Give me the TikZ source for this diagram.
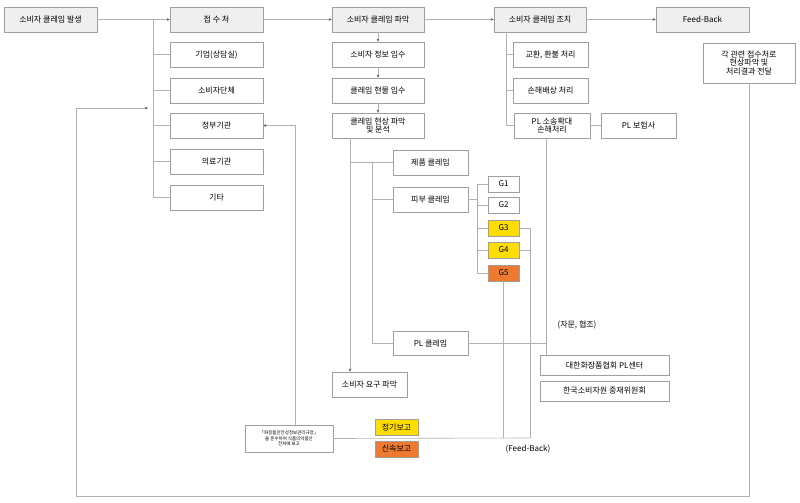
\documentclass[tikz,border=0pt]{standalone}
\usepackage{fontspec}
\newfontfamily\cjk{Noto Sans CJK KR}
\usetikzlibrary{arrows.meta}
\definecolor{gy}{HTML}{FFDD00}
\definecolor{go}{HTML}{EE7A30}
\begin{document}
\begin{tikzpicture}[x=1pt,y=-1pt,
  box/.style={draw=gray!75,line width=0.6pt,fill=white,inner sep=0pt,align=center,font=\cjk\fontsize{8}{9.5}\selectfont},
  top/.style={box,fill=blue!4!gray!12,minimum width=93pt,minimum height=25pt},
  ln/.style={draw=gray!60,line width=0.6pt},
  arr/.style={ln,-{Stealth[length=3pt,width=2.5pt,black!70]}},
  lbl/.style={font=\cjk\fontsize{8}{9.5}\selectfont,inner sep=0pt}]
\useasboundingbox (0,0) rectangle (800,503);
% top row
\node[top] (b1) at (50.5,19.5) {소비자 클레임 발생};
\node[top] (b2) at (216.5,19.5) {접 수 처};
\node[top,minimum width=92pt] (b3) at (378,19.5) {소비자 클레임 파악};
\node[top,minimum width=92pt] (b4) at (540,19.5) {소비자 클레임 조치};
\node[top] (b5) at (702.5,19.5) {Feed-Back};
\draw[arr] (b1) -- (b2);
\draw[arr] (b2) -- (b3);
\draw[arr] (b3) -- (b4);
\draw[arr] (b4) -- (b5);
% left column
\foreach \n/\y/\t in {L1/54.5/기업(상담실),L2/90.5/소비자단체,L3/125.5/정부기관,L4/161.5/의료기관,L5/197.5/기타}
  \node[box,minimum width=93pt,minimum height=25pt] (\n) at (216.5,\y) {\t};
\draw[ln] (153,19.5) |- (L5.west);
\foreach \n in {L1,L2,L3,L4} \draw[ln] (\n.west) -- ++(-17,0);
% middle column
\node[box,minimum width=92pt,minimum height=25pt] (M1) at (378,54.5) {소비자 정보 입수};
\node[box,minimum width=92pt,minimum height=25pt] (M2) at (378,90.5) {클레임 현물 입수};
\node[box,minimum width=92pt,minimum height=25pt] (M3) at (378,125.5) {클레임 현상 파악\\[-1pt]및 분석};
\node[box,minimum width=75pt,minimum height=25pt] (M4) at (369.5,384.5) {소비자 요구 파악};
\draw[arr] (b3) -- (M1);
\draw[arr] (M1) -- (M2);
\draw[arr] (M2) -- (M3);
\draw[arr] ([xshift=-28pt]M3.south) -- ([xshift=-19.5pt]M4.north);
\node[box,minimum width=75pt,minimum height=25pt] (P1) at (430.5,162.5) {제품 클레임};
\node[box,minimum width=75pt,minimum height=25pt] (P2) at (430.5,199.5) {피부 클레임};
\node[box,minimum width=75pt,minimum height=24pt] (P3) at (430.5,343) {PL 클레임};
\coordinate (j0) at (350,162.5);
\coordinate (j1) at (372,162.5);
\draw[ln] (j0) -- (P1.west);
\draw[ln] (j1) |- (P3.west);
\draw[ln] (j1 |- P2.west) -- (P2.west);
% G boxes
\foreach \n/\y/\c in {G1/184/white,G2/205/white,G3/228/gy,G4/250/gy,G5/273/go}
  \node[box,fill=\c,minimum width=31pt,minimum height=16pt] (\n) at (503.5,\y) {\n};
\draw[ln] (G1.west) -- ++(-10,0) |- (G5.west);
\foreach \n in {G2,G3,G4} \draw[ln] (\n.west) -- ++(-10,0);
\draw[ln] (P2.east) -- ++(10,0);
\coordinate (j2) at (530,438);
% report
\node[box,font=\cjk\fontsize{4.5}{5.7}\selectfont,minimum width=88pt,minimum height=27pt] (H) at (289,438.5) {「화장품안전성정보관리규정」\\을 준수하여 식품의약품안\\전처에 보고};
\draw[ln] (G3.east) -- (G3.east -| j2) -- (j2);
\draw[ln] (G4.east) -- (G4.east -| j2);
\draw[ln] (G5.south) -- (G5.south |- j2);
\draw[ln] (H.east) -- (j2);
\draw[arr] ([xshift=6pt]H.north) |- (L3.east);
\node[box,fill=gy,minimum width=43pt,minimum height=16pt] (Q1) at (396.5,427) {정기보고};
\node[box,fill=go,minimum width=43pt,minimum height=16pt] (Q2) at (396.5,449) {신속보고};
% right column
\node[box,minimum width=75pt,minimum height=25pt] (R1) at (550.5,54.5) {교환, 환불 처리};
\node[box,minimum width=75pt,minimum height=25pt] (R2) at (550.5,90.5) {손해배상 처리};
\node[box,minimum width=76pt,minimum height=25pt] (R3) at (552,125.5) {PL 소송확대\\[-1pt]손해처리};
\node[box,minimum width=75pt,minimum height=25pt] (R4) at (638.5,125.5) {PL 보험사};
\draw[ln] ([xshift=-34pt]b4.south) |- (R3.west);
\draw[ln] (R1.west) -- ++(-7,0);
\draw[ln] (R2.west) -- ++(-7,0);
\draw[ln] (R3) -- (R4);
\node[box,minimum width=129pt,minimum height=20pt] (K1) at (604.5,365) {대한화장품협회 PL센터};
\node[box,minimum width=129pt,minimum height=20pt] (K2) at (604.5,391) {한국소비자원 중재위원회};
\draw[ln] ([xshift=-6pt]R3.south) -- ([xshift=-58.5pt]K1.north);
\draw[ln] (P3.east) -- (P3.east -| 546,0);
\node[lbl] (t1) at (577,325) {(자문, 협조)};
\node[lbl] (t2) at (528,449) {(Feed-Back)};
% feedback loop
\node[box,minimum width=92pt,minimum height=40pt] (F) at (749,63) {각 관련 접수처로\\[-1pt]현상파악 및\\[-1pt]처리결과 전달};
\coordinate (c1) at (749,496);
\coordinate (c2) at (76,496);
\coordinate (c3) at (148,108);
\draw[arr] (F.south) -- (c1) -- (c2) |- (c3);
\end{tikzpicture}
\end{document}
